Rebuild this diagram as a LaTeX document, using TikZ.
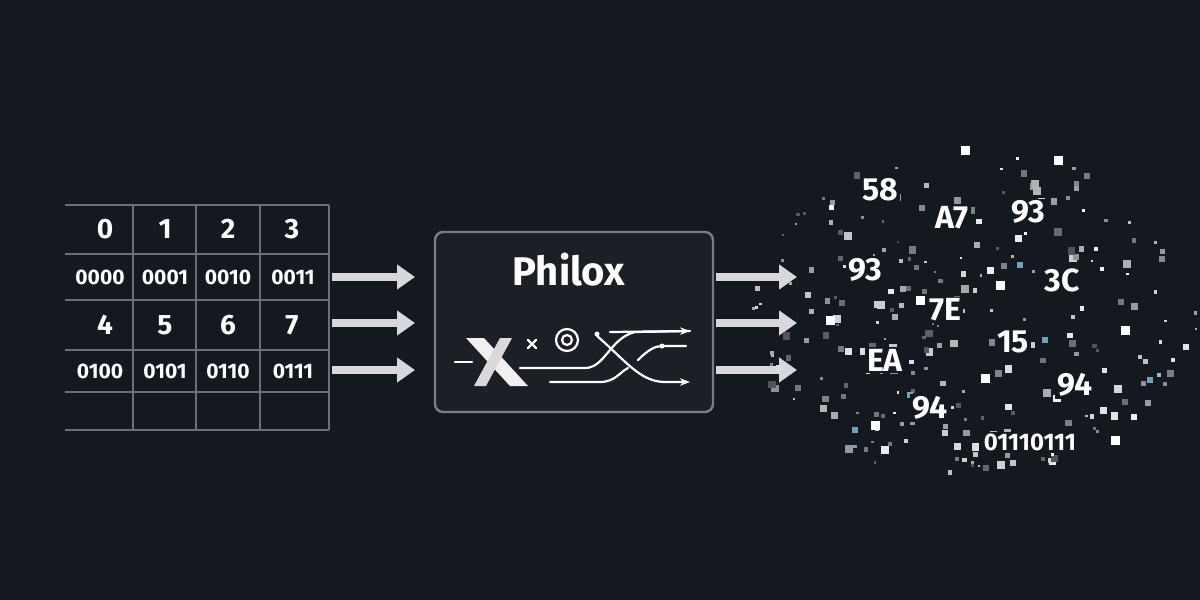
\documentclass[tikz,border=0pt]{standalone}
\usepackage{fontspec}
\setmainfont{Fira Sans}
\usetikzlibrary{arrows.meta}
\definecolor{bg}{HTML}{14181F}
\definecolor{boxc}{HTML}{1C1F25}
\definecolor{gridc}{HTML}{6B6F78}
\definecolor{arr}{HTML}{D8D8DC}
\begin{document}
\begin{tikzpicture}[x=0.5pt,y=-0.5pt,
  cell/.style={text=white,font=\fontsize{14}{14}\selectfont\bfseries},
  bin/.style={text=white,font=\fontsize{10.5}{11}\selectfont\bfseries},
  hexl/.style={text=white,font=\fontsize{16}{16}\selectfont\bfseries},
  fat/.style={draw=arr,line width=4pt,-{Triangle[length=9pt,width=12pt]}},
  icon/.style={draw=white,line width=1.1pt,line cap=round}]
\fill[bg] (0,0) rectangle (1200,600);
\useasboundingbox (0,0) rectangle (1200,600);
% grid
\foreach \y in {205,254,300,350,392,430} \draw[gridc,line width=0.8pt] (65,\y) -- (329,\y);
\foreach \x in {133,196,260,329} \draw[gridc,line width=0.8pt] (\x,205) -- (\x,430);
\foreach \t/\x in {0/105,1/165,2/228,3/292} \node[cell] (c\t) at (\x,229) {\t};
\foreach \t/\x in {4/105,5/165,6/228,7/292} \node[cell] (c\t) at (\x,325) {\t};
\foreach \t/\x [count=\i] in {0000/100,0001/165,0010/228,0011/293} \node[bin] (b\i) at (\x,277) {\t};
\foreach \t/\x [count=\i] in {0100/100,0101/165,0110/228,0111/293} \node[bin] (d\i) at (\x,371) {\t};
% box
\node[draw=gridc!90,line width=1.2pt,fill=boxc,rounded corners=4pt,minimum width=139pt,minimum height=90pt,inner sep=0pt] (ph) at (574,322) {};
\node[text=white,font=\fontsize{20}{20}\selectfont\bfseries] (pt) at (569,270) {Philox};
% arrows
\foreach \i/\y in {1/277,2/323,3/370} {
  \coordinate (in\i) at (332,\y); \coordinate (ti\i) at (415,\y);
  \coordinate (os\i) at (716,\y); \coordinate (ou\i) at (797,\y);
  \draw[fat] (in\i) -- (ti\i);
  \draw[fat] (os\i) -- (ou\i);}
% icon X
\fill[white!88!gray] (466,338) -- (484,338) -- (528,386) -- (510,386) -- cycle;
\fill[white!70!gray] (500,338) -- (512,338) -- (486,386) -- (474,386) -- cycle;
\draw[icon] (455,362) -- (472,362);
\draw[icon] (528,340) -- (536,348) (536,340) -- (528,348);
\draw[icon] (567,340) circle (11); \draw[icon] (567,340) circle (5);
\draw[icon] (520,368) -- (585,368) .. controls (605,368) and (610,338) .. (635,332) -- (690,331);
\draw[icon,-{Stealth[length=5pt]}] (610,332) -- (690,331);
\draw[icon] (550,382) -- (600,382) .. controls (615,382) and (620,372) .. (628,368);
\draw[icon,-{Stealth[length=5pt]}] (597,336) .. controls (625,360) and (640,382) .. (665,382) -- (690,382);
\fill[white] (597,334) circle (2.5);
\draw[icon] (638,360) .. controls (648,350) and (655,346) .. (662,346) -- (686,346);
\fill[white] (662,346) circle (2.5);
% scatter
\pgfmathsetseed{7}
\foreach \k in {1,...,260} {
  \pgfmathsetmacro{\a}{rnd*360}
  \pgfmathsetmacro{\r}{sqrt(rnd)}
  \pgfmathsetmacro{\px}{975+225*\r*cos(\a)}
  \pgfmathsetmacro{\py}{315+165*\r*sin(\a)}
  \pgfmathsetmacro{\s}{2+rnd*6}
  \pgfmathsetmacro{\g}{25+rnd*70}
  \fill[white!\g!bg] (\px-\s/2,\py-\s/2) rectangle ++(\s,\s);
}
\foreach \px/\py in {920/300,1000/285,1125/330,985/378,875/425,1115/440,965/150,830/320,1015/440,1058/160} \fill[white] (\px-4,\py-4) rectangle ++(9,9);
\foreach \px/\py in {1020/265,855/430,1045/340,910/395,1150/380} \fill[cyan!40!gray] (\px-3,\py-3) rectangle ++(6,6);
\foreach \t/\x/\y [count=\i] in {58/880/190,A7/952/218,93/1028/212,93/865/270,3C/1062/280,7E/945/310,15/1013/342,EA/885/360,94/1075/385,94/930/408}
  \node[hexl,fill=bg,inner sep=1pt] (h\i) at (\x,\y) {\t};
\node[text=white,fill=bg,inner sep=1pt,font=\fontsize{12}{12}\selectfont\bfseries] (hb) at (1030,442) {01110111};
\end{tikzpicture}
\end{document}
